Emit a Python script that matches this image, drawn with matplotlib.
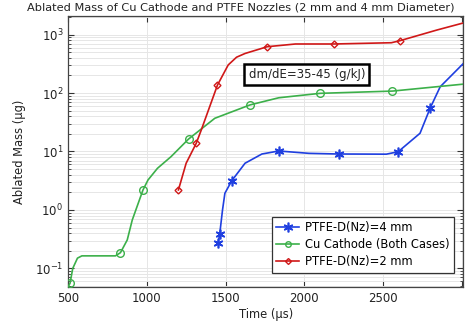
import matplotlib
matplotlib.use("Agg")
import matplotlib.pyplot as plt
from matplotlib.lines import Line2D

plt.rcParams['font.family'] = ['DejaVu Sans']

# Cu cathode (both cases)
cu_t = [500, 513, 530, 560, 588, 700, 801, 833, 876, 908, 976, 1008, 1068, 1154, 1265,
        1432, 1656, 1838, 2100, 2560, 3010]
cu_m = [0.048, 0.056, 0.10, 0.15, 0.164, 0.164, 0.164, 0.186, 0.307, 0.675, 2.2, 3.26, 5.16,
        8.16, 16.3, 37, 62.7, 83, 98.8, 108, 142]
cu_mark = [1, 7, 10, 14, 16, 18, 19]

# PTFE nozzle, D = 2 mm
p2_t = [1201, 1250, 1314, 1346, 1449, 1517, 1570, 1624, 1765, 1944, 2186, 2553, 2607, 2842,
        3010]
p2_m = [2.2, 6.3, 13.8, 23.3, 137, 302, 410, 475, 620, 690, 690, 725, 785, 1196, 1580]
p2_mark = [0, 2, 4, 8, 10, 12]

# PTFE nozzle, D = 4 mm
p4_t = [1453, 1463, 1481, 1496, 1540, 1624, 1731, 1838, 2030, 2218, 2521, 2596, 2735, 2799,
        2863, 3010]
p4_m = [0.276, 0.384, 1.0, 1.93, 3.17, 6.3, 9.06, 10.2, 9.3, 9.06, 9.0, 9.9, 20.5, 54.9,
        128, 320]
p4_mark = [0, 1, 4, 7, 9, 11, 13]

x_ticks = [500, 1000, 1500, 2000, 2500, 3000]
x_labels = ['500', '1000', '1500', '2000', '2500', '']

blue = '#1f3fe0'
green = '#3cb04a'
red = '#d01818'

fig = plt.figure(figsize=(4.74, 3.22), dpi=100)
ax = fig.add_axes([0.1435, 0.109, 0.834, 0.841])

ax.plot(p4_t, p4_m, color=blue, lw=1.2, marker=(6, 2, 0), ms=7, mew=1.2,
        markevery=p4_mark, zorder=3)
ax.plot(cu_t, cu_m, color=green, lw=1.2, marker='o', ms=5.5, mfc='none', mew=1.0,
        markevery=cu_mark, zorder=3)
ax.plot(p2_t, p2_m, color=red, lw=1.2, marker='D', ms=3.5, mfc='none', mew=1.0,
        markevery=p2_mark, zorder=3)

ax.set_yscale('log')
ax.set_xlim(500, 3010)
ax.set_ylim(0.0483, 2070)
ax.set_xticks(x_ticks)
ax.set_xticklabels(x_labels)

ax.grid(True, which='major', axis='x', color='#e6e6e6', lw=0.7)
ax.grid(True, which='both', axis='y', color='#e6e6e6', lw=0.7)
ax.set_axisbelow(True)

ax.tick_params(which='both', direction='in', top=True, right=True, labelsize=8.5,
               colors='#333333', labelcolor='#222222')
ax.tick_params(which='major', length=4)
ax.tick_params(which='minor', length=2)
for s in ax.spines.values():
    s.set_color('#444444')
    s.set_linewidth(0.9)

fig.text(0.507, 0.976, 'Ablated Mass of Cu Cathode and PTFE Nozzles (2 mm and 4 mm Diameter)',
         fontsize=8.2, color='#222222', ha='center', va='center')
ax.set_xlabel('Time (μs)', fontsize=8.3, color='#222222', labelpad=2)
ax.set_ylabel('Ablated Mass (μg)', fontsize=8.3, color='#222222', labelpad=6)

handles = [
    Line2D([], [], color=blue, lw=1.2, marker=(6, 2, 0), ms=7, mew=1.2),
    Line2D([], [], color=green, lw=1.2, marker='o', ms=4, mfc='none', mew=1.0),
    Line2D([], [], color=red, lw=1.2, marker='D', ms=3, mfc='none', mew=1.0),
]
leg = ax.legend(handles, ['PTFE-D(Nz)=4 mm', 'Cu Cathode (Both Cases)', 'PTFE-D(Nz)=2 mm'],
                loc='lower right', bbox_to_anchor=(0.992, 0.03), fontsize=8.3,
                fancybox=False, framealpha=1, edgecolor='#333333', handlelength=2.0,
                borderpad=0.4, labelspacing=0.35, handletextpad=0.5)
leg.get_frame().set_linewidth(0.9)

ax.text(0.604, 0.784, 'dm/dE=35-45 (g/kJ)', transform=ax.transAxes, ha='center',
        va='center', fontsize=8.5, color='#222222', zorder=5,
        bbox=dict(boxstyle='square,pad=0.35', fc='white', ec='black', lw=1.8))

fig.savefig('out.png', dpi=100)
